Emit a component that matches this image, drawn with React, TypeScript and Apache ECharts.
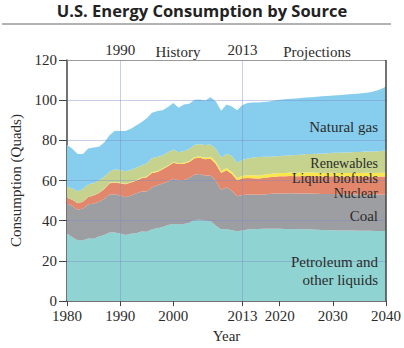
import React, { useEffect, useRef } from "react";
import * as echarts from "echarts";

const years: string[] = [];
for (let y = 1980; y <= 2040; y++) years.push(String(y));

const labelYears = [1980, 1990, 2000, 2013, 2020, 2030, 2040];

// History 1980-2013 followed by projections 2014-2040 (quads)
const petroleum = [
  33.6, 31.8, 30.3, 30.3, 31.2, 31.0, 32.2, 32.9, 34.2, 34.2, 33.6, 32.9, 33.5, 33.8, 34.7, 34.5, 35.7,
  36.3, 36.9, 37.9, 38.4, 38.3, 38.4, 39.0, 40.4, 40.5, 40.0, 39.9, 37.5, 35.6, 35.9, 35.3, 34.8, 35.2,
  35.6, 35.8, 35.9, 36.0, 36.0, 36.0, 36.0, 35.9, 35.9, 35.8, 35.8, 35.7, 35.6, 35.5, 35.4, 35.3, 35.3,
  35.2, 35.2, 35.1, 35.1, 35.0, 35.0, 35.0, 34.9, 34.9, 34.9,
];
const coal = [
  15.0, 15.6, 15.2, 15.8, 17.0, 17.4, 17.2, 18.0, 18.8, 19.0, 19.0, 18.8, 19.0, 19.7, 19.8, 20.0, 21.0,
  21.4, 21.6, 21.6, 22.5, 21.9, 21.9, 22.3, 22.5, 22.7, 22.4, 22.7, 22.3, 19.7, 20.8, 19.6, 17.4, 17.6,
  17.4, 17.2, 17.0, 17.1, 17.3, 17.5, 17.6, 17.7, 17.8, 17.8, 17.8, 17.9, 17.9, 17.9, 17.9, 18.0, 18.0,
  18.0, 18.0, 18.0, 18.0, 18.0, 18.1, 18.1, 18.1, 18.1, 18.1,
];
const nuclear = [
  2.9, 3.1, 3.2, 3.3, 3.6, 4.1, 4.4, 4.9, 5.6, 5.7, 6.1, 6.4, 6.5, 6.4, 6.7, 7.1, 7.1, 6.6, 7.1, 7.6,
  7.9, 8.0, 8.1, 7.9, 8.2, 8.1, 8.2, 8.4, 8.4, 8.4, 8.4, 8.3, 8.0, 8.3,
  8.3, 8.2, 8.1, 8.2, 8.3, 8.4, 8.5, 8.5, 8.6, 8.6, 8.6, 8.7, 8.7, 8.7, 8.7, 8.8, 8.8, 8.8, 8.8, 8.8,
  8.9, 8.9, 8.9, 8.9, 8.9, 9.0, 9.0,
];
const biofuels = [
  0, 0, 0, 0, 0, 0, 0.1, 0.3, 0.3, 0.3, 0.3, 0.3, 0.3, 0.3, 0.3, 0.4, 0.4, 0.4, 0.4, 0.4, 0.4, 0.4, 0.4,
  0.5, 0.6, 0.7, 0.8, 0.9, 1.1, 1.1, 1.2, 1.2, 1.1, 1.3,
  1.4, 1.5, 1.5, 1.6, 1.6, 1.6, 1.7, 1.7, 1.7, 1.7, 1.7, 1.8, 1.8, 1.8, 1.8, 1.8, 1.8, 1.8, 1.8, 1.9,
  1.9, 1.9, 1.9, 1.9, 1.9, 1.9, 1.9,
];
const renewables = [
  5.4, 5.6, 6.0, 6.4, 6.4, 6.1, 6.2, 5.8, 5.5, 6.4, 6.2, 6.2, 6.0, 6.2, 6.0, 6.6, 7.0, 7.0, 6.6, 6.6,
  6.2, 5.5, 5.9, 6.0, 6.1, 6.1, 6.3, 6.1, 6.5, 6.7, 7.0, 8.0, 7.6, 8.0,
  8.3, 8.8, 9.2, 9.0, 8.7, 8.5, 8.4, 8.5, 8.6, 8.8, 8.9, 9.1, 9.2, 9.4, 9.5, 9.7, 9.9, 10.0, 10.1, 10.2,
  10.3, 10.4, 10.5, 10.6, 10.7, 10.8, 11.0,
];
const naturalGas = [
  20.9, 19.7, 18.5, 17.4, 17.8, 17.8, 16.7, 17.1, 18.2, 19.2, 19.4, 20.0, 20.5, 21.0, 21.5, 22.4, 22.6,
  22.9, 22.4, 22.5, 23.2, 22.1, 23.1, 22.5, 22.4, 22.3, 22.1, 23.4, 23.6, 23.3, 24.5, 24.4, 26.1, 27.2,
  27.6, 27.3, 27.2, 27.2, 27.5, 27.8, 28.0, 28.2, 28.1, 28.2, 28.3, 28.1, 28.3, 28.4, 28.6, 28.5, 28.5,
  28.7, 28.8, 28.9, 28.9, 29.1, 29.2, 29.5, 30.1, 30.8, 31.9,
];

const seriesLabels: [string, number, number][] = [
  ["Natural gas", 127, 15],
  ["Renewables", 163, 14],
  ["Liquid biofuels", 178, 14],
  ["Nuclear", 193, 14],
  ["Coal", 216, 15],
  ["Petroleum and", 262, 15],
  ["other liquids", 280, 15],
];

const SERIF = "'Liberation Serif', 'DejaVu Serif', serif";
const TEXT = "#2b2b2b";
const GRID_LINE = "rgba(125,135,200,0.42)";

export default function App() {
  const ref = useRef<HTMLDivElement>(null);
  useEffect(() => {
    if (!ref.current) return;
    const chart = echarts.init(ref.current, undefined, { renderer: "svg" });
    const showYear = (_i: number, v: string) => labelYears.includes(Number(v));
    const area = (name: string, data: number[], color: string, extra: any = {}) => ({
      name,
      type: "line",
      stack: "total",
      data,
      showSymbol: false,
      symbol: "none",
      lineStyle: { width: 0 },
      areaStyle: { color, opacity: 1 },
      itemStyle: { color },
      silent: true,
      ...extra,
    });
    const vline = (yr: string, label: string) => ({
      xAxis: yr,
      label: {
        show: label !== "",
        formatter: label,
        position: "end",
        distance: 3,
        color: TEXT,
        fontFamily: SERIF,
        fontSize: 15,
      },
    });
    chart.setOption({
      animation: false,
      grid: { left: 60, right: 14, top: 60, bottom: 38, containLabel: false },
      xAxis: {
        type: "category",
        data: years,
        boundaryGap: false,
        name: "Year",
        nameLocation: "middle",
        nameGap: 24,
        nameTextStyle: { color: TEXT, fontFamily: SERIF, fontSize: 15 },
        axisLine: { lineStyle: { color: "#444", width: 1.5 } },
        axisTick: { show: true, interval: showYear, length: 5, lineStyle: { color: "#444" } },
        axisLabel: {
          interval: showYear,
          color: TEXT,
          fontFamily: SERIF,
          fontSize: 15,
          margin: 7,
        },
        splitLine: { show: false },
      },
      yAxis: {
        type: "value",
        min: 0,
        max: 120,
        interval: 20,
        name: "Consumption (Quads)",
        nameLocation: "middle",
        nameGap: 44,
        nameTextStyle: { color: TEXT, fontFamily: SERIF, fontSize: 15 },
        axisLine: { show: true, lineStyle: { color: "#444", width: 1.5 } },
        axisTick: { show: true, length: 8, lineStyle: { color: "#444" } },
        axisLabel: { color: TEXT, fontFamily: SERIF, fontSize: 15, margin: 10 },
        splitLine: { show: false },
      },
      series: [
        area("Petroleum and other liquids", petroleum, "#8fd3d2"),
        area("Coal", coal, "#9d9ea2"),
        area("Nuclear", nuclear, "#e2876b"),
        area("Liquid biofuels", biofuels, "#fbe64c"),
        area("Renewables", renewables, "#c5d38f"),
        area("Natural gas", naturalGas, "#86cdee", {
          markLine: {
            silent: true,
            symbol: ["none", "none"],
            animation: false,
            lineStyle: { color: GRID_LINE, width: 1, type: "solid" },
            label: { show: false },
            data: [
              { yAxis: 20 },
              { yAxis: 40 },
              { yAxis: 60 },
              { yAxis: 80 },
              { yAxis: 100 },
              { yAxis: 120, lineStyle: { color: "#9a9a9a", width: 1 } },
              vline("1990", "1990"),
              vline("2013", "2013"),
              { xAxis: "2040", lineStyle: { color: "#444", width: 1.5 } },
            ],
          },
        }),
      ],
      graphic: [
        {
          type: "text",
          left: "center",
          top: 2,
          style: {
            text: "U.S. Energy Consumption by Source",
            font: "bold 16.5px 'Open Sans', 'Noto Sans', sans-serif",
            fill: "#222",
          },
        },
        {
          type: "line",
          shape: { x1: 2, y1: 24, x2: 391, y2: 24 },
          style: { stroke: "#666", lineWidth: 1 },
        },
        {
          type: "text",
          x: 178,
          y: 52,
          style: { text: "History", font: `15px ${SERIF}`, fill: TEXT, align: "center", verticalAlign: "middle" },
        },
        {
          type: "text",
          x: 317,
          y: 52,
          style: { text: "Projections", font: `15px ${SERIF}`, fill: TEXT, align: "center", verticalAlign: "middle" },
        },
        ...seriesLabels.map(([t, y, fs]) => ({
          type: "text",
          x: 378,
          y,
          z: 100,
          style: {
            text: t,
            font: `${fs}px ${SERIF}`,
            fill: TEXT,
            align: "right",
            verticalAlign: "middle",
            lineHeight: fs,
          },
        })),
      ],
    });
    return () => chart.dispose();
  }, []);
  return <div ref={ref} style={{ width: 404, height: 348, position: "absolute", left: 0, top: 0 }} />;
}
